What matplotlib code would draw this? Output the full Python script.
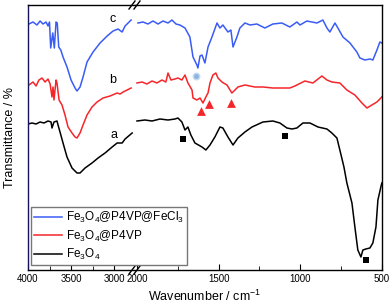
import matplotlib
matplotlib.use("Agg")
import matplotlib.pyplot as plt
from matplotlib.lines import Line2D

plt.rcParams['font.family'] = ['Liberation Sans', 'DejaVu Sans']
plt.rcParams['mathtext.fontset'] = 'custom'
plt.rcParams['mathtext.rm'] = 'Liberation Sans'

# ---- data (wavenumber / cm-1, transmittance in arbitrary offset units) ----
blue_hi_wn = [3989, 3942, 3896, 3860, 3826, 3791, 3768, 3751, 3737, 3713, 3695, 3675, 3661, 3644,
              3620, 3594, 3548, 3501, 3455, 3432, 3397, 3362, 3316, 3246, 3165, 3083, 3014, 2956,
              2909, 2875, 2805]
blue_hi_t = [246, 248, 245, 249, 246, 248, 244, 248, 222, 237, 222, 248, 247, 223,
             220, 213, 203, 190, 182, 179, 183, 193, 208, 218, 227, 234, 239, 241,
             238, 244, 250]

red_hi_wn = [3989, 3942, 3907, 3873, 3838, 3802, 3768, 3744, 3722, 3710, 3699, 3675, 3664, 3640,
             3606, 3571, 3536, 3490, 3455, 3432, 3397, 3362, 3316, 3258, 3200, 3130, 3049, 2967,
             2933, 2898, 2805]
red_hi_t = [185, 188, 184, 190, 192, 188, 191, 186, 173, 183, 170, 190, 187, 170,
            165, 155, 143, 137, 133, 132, 137, 145, 155, 163, 168, 172, 174, 177,
            176, 178, 182]

black_hi_wn = [4000, 3953, 3907, 3860, 3815, 3768, 3733, 3722, 3699, 3664, 3652, 3629, 3594, 3548,
               3490, 3432, 3397, 3339, 3258, 3188, 3107, 3025, 2967, 2909, 2875, 2793]
black_hi_t = [146, 147, 146, 148, 147, 149, 148, 142, 148, 149, 145, 138, 127, 113,
              102, 97, 97, 102, 107, 112, 117, 123, 127, 127, 131, 137]

blue_lo_wn = [1994, 1963, 1933, 1902, 1871, 1841, 1810, 1786, 1761, 1737, 1706, 1676, 1657, 1633,
              1627, 1614, 1602, 1584, 1565, 1541, 1510, 1492, 1474, 1443, 1425, 1412, 1388, 1370,
              1339, 1308, 1266, 1217, 1168, 1113, 1064, 1021, 1002, 960, 898, 862, 837, 819, 788,
              770, 739, 696, 654, 635, 605, 574, 556, 531, 513, 501]
blue_lo_t = [247, 248, 246, 249, 246, 249, 247, 250, 246, 245, 242, 233, 213, 205,
             202, 214, 215, 207, 223, 233, 247, 242, 245, 238, 240, 223, 233, 242,
             247, 245, 246, 242, 246, 247, 243, 248, 245, 249, 247, 250, 242, 238, 247,
             242, 233, 227, 218, 212, 210, 211, 210, 220, 228, 227]

red_lo_wn = [2000, 1969, 1939, 1908, 1878, 1847, 1823, 1810, 1792, 1767, 1749, 1725, 1706, 1688,
             1663, 1657, 1633, 1614, 1596, 1572, 1565, 1553, 1535, 1517, 1504, 1480, 1449, 1419,
             1400, 1382, 1339, 1278, 1229, 1168, 1064, 1033, 972, 923, 868, 837, 807, 758, 715,
             666, 623, 592, 562, 531, 501]
red_lo_t = [187, 188, 186, 189, 187, 190, 188, 197, 190, 191, 192, 190, 195, 187,
            180, 172, 170, 172, 167, 175, 177, 187, 195, 197, 192, 188, 185, 177,
            180, 183, 185, 183, 183, 182, 182, 184, 189, 187, 194, 190, 188, 187, 180,
            175, 167, 162, 165, 168, 173]

black_lo_wn = [2000, 1951, 1908, 1859, 1810, 1767, 1749, 1725, 1706, 1688, 1670, 1645, 1602, 1578,
               1553, 1523, 1492, 1474, 1443, 1412, 1382, 1339, 1296, 1229, 1168, 1125, 1082, 1051,
               1021, 984, 941, 892, 837, 807, 776, 758, 733, 715, 684, 666, 648, 629, 617, 599,
               574, 556, 537, 525, 507, 501]
black_lo_t = [149, 150, 149, 151, 150, 151, 152, 148, 140, 143, 135, 127, 123, 120,
              125, 133, 143, 142, 133, 125, 132, 138, 143, 148, 149, 147, 142, 141,
              142, 147, 147, 143, 141, 137, 132, 120, 103, 87, 67, 43, 20, 13, 20, 21,
              22, 27, 43, 70, 83, 87]

circle_wn, circle_t = [1639], [194]
tri_wn, tri_t = [1610, 1559, 1425], [159, 166, 167]
sq_wn, sq_t = [1720, 1096, 599], [131, 134, 10]

curve_labels = ['c', 'b', 'a']
curve_label_wn = [3014, 3014, 3002]
curve_label_t = [251, 190, 135]

legend_names = ['Fe$_3$O$_4$@P4VP@FeCl$_3$', 'Fe$_3$O$_4$@P4VP', 'Fe$_3$O$_4$']

BLUE = '#3a5cf5'
RED = '#f5262a'
BLACK = '#000000'

W, H = 392, 308
fig = plt.figure(figsize=(W / 100, H / 100), dpi=100)

axL = fig.add_axes([28 / W, 38 / H, 107 / W, 265 / H])
axR = fig.add_axes([135 / W, 38 / H, 247 / W, 265 / H])

axL.plot(blue_hi_wn, blue_hi_t, color=BLUE, lw=1.1)
axL.plot(red_hi_wn, red_hi_t, color=RED, lw=1.1)
axL.plot(black_hi_wn, black_hi_t, color=BLACK, lw=1.1)
axR.plot(blue_lo_wn, blue_lo_t, color=BLUE, lw=1.1)
axR.plot(red_lo_wn, red_lo_t, color=RED, lw=1.1)
axR.plot(black_lo_wn, black_lo_t, color=BLACK, lw=1.1)

axR.scatter(circle_wn, circle_t, s=22, color='#8fb6e0', edgecolor='#c5dbf0', lw=1.0, zorder=5)
axR.scatter(tri_wn, tri_t, s=40, marker='^', color=RED, lw=0, zorder=5)
axR.scatter(sq_wn, sq_t, s=18, marker='s', color=BLACK, lw=0, zorder=5)

for lab, x, y in zip(curve_labels, curve_label_wn, curve_label_t):
    axL.text(x, y, lab, fontsize=9, ha='center', va='center')

axL.set_xlim(4000, 2760)
axR.set_xlim(2012, 500)
for ax in (axL, axR):
    ax.set_ylim(0, 265)
    ax.set_yticks([])
    ax.tick_params(axis='x', which='both', direction='in', labelsize=7, pad=3, top=False)
    ax.tick_params(axis='x', which='major', length=4)
    ax.tick_params(axis='x', which='minor', length=3)
    for s in ax.spines.values():
        s.set_linewidth(1.0)

axL.set_xticks([4000, 3500, 3000])
axL.set_xticks([3750, 3250], minor=True)
axR.set_xticks([2000, 1500, 1000, 500])
axR.set_xticks([1750, 1250, 750], minor=True)
axL.spines['right'].set_visible(False)
axR.spines['left'].set_visible(False)
axL.spines['left'].set_color('#14145a')

# axis break marks
for yb in (5, 270):
    for xo in (0, 5):
        fig.add_artist(Line2D([(129 + xo) / W, (135 + xo) / W],
                              [(H - yb - 4) / H, (H - yb + 4) / H],
                              color='black', lw=1.0))

fig.text(205 / W, 12 / H, 'Wavenumber / cm$^{-1}$', ha='center', va='center', fontsize=9)
fig.text(10 / W, (H - 137) / H, 'Transmittance / %', rotation=90, ha='center', va='center', fontsize=9)

handles = [Line2D([], [], color=c, lw=1.1) for c in (BLUE, RED, BLACK)]
fig.legend(handles, legend_names, loc='upper left', bbox_to_anchor=(31 / W, (H - 207) / H),
           fontsize=8.5, frameon=True, fancybox=False, edgecolor='#777777', framealpha=1,
           handlelength=2.4, handletextpad=0.3, labelspacing=0.3, borderpad=0.25,
           borderaxespad=0)

fig.savefig('out.png', dpi=100)
